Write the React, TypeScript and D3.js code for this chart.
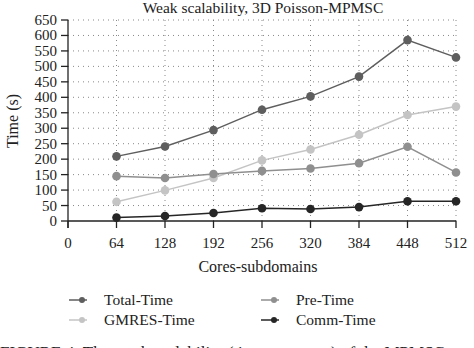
import React from "react";
import * as d3 from "d3";

const cores = [64, 128, 192, 256, 320, 384, 448, 512];
const totalTime = [209, 241, 294, 360, 403, 467, 585, 529];
const gmresTime = [62, 99, 139, 196, 231, 279, 343, 370];
const preTime = [145, 139, 152, 162, 170, 187, 240, 157];
const commTime = [11, 16, 26, 41, 39, 45, 64, 64];
const xTicks = [0, 64, 128, 192, 256, 320, 384, 448, 512];
const yTicks = d3.range(0, 651, 50);

const series = [
  { name: "Total-Time", values: totalTime, color: "#5e5e5e" },
  { name: "GMRES-Time", values: gmresTime, color: "#c4c4c4" },
  { name: "Pre-Time", values: preTime, color: "#8f8f8f" },
  { name: "Comm-Time", values: commTime, color: "#262626" },
];

const FONT = "'Liberation Serif', 'DejaVu Serif', serif";

export default function App() {
  const W = 474, H = 348;
  const x = d3.scaleLinear().domain([0, 512]).range([68, 456]);
  const y = d3.scaleLinear().domain([0, 650]).range([221, 20]);
  const line = d3.line<number>().x((_, i) => x(cores[i])).y((d) => y(d));

  const legend = [
    { s: series[0], lx: 69, ly: 300 },
    { s: series[2], lx: 261, ly: 300 },
    { s: series[1], lx: 69, ly: 320 },
    { s: series[3], lx: 261, ly: 320 },
  ];

  return (
    <svg width={W} height={H} style={{ position: "absolute", left: 0, top: 0, background: "#fff" }} fontFamily={FONT}>
      <rect width={W} height={H} fill="#fff" />
      <text x={263} y={13} textAnchor="middle" fontSize={15.5} fill="#222">
        Weak scalability, 3D Poisson-MPMSC
      </text>
      {/* grid */}
      {yTicks.slice(1).map((t) => (
        <line key={"gy" + t} x1={x(0)} x2={x(512)} y1={y(t)} y2={y(t)} stroke="#888" strokeWidth={1} strokeDasharray="1 4" />
      ))}
      {xTicks.slice(1).map((t) => (
        <line key={"gx" + t} x1={x(t)} x2={x(t)} y1={y(0)} y2={y(650)} stroke="#888" strokeWidth={1} strokeDasharray="1 4" />
      ))}
      {/* axes */}
      <line x1={x(0)} x2={x(0)} y1={y(650)} y2={y(0) + 7} stroke="#222" strokeWidth={1.3} />
      <line x1={x(0)} x2={x(512)} y1={y(0)} y2={y(0)} stroke="#222" strokeWidth={1.3} />
      {yTicks.map((t) => (
        <g key={"yt" + t}>
          <line x1={x(0) - 7} x2={x(0)} y1={y(t)} y2={y(t)} stroke="#222" strokeWidth={1.3} />
          <text x={x(0) - 11} y={y(t) + 5} textAnchor="end" fontSize={15} fill="#222">{t}</text>
        </g>
      ))}
      {xTicks.map((t) => (
        <g key={"xt" + t}>
          <line x1={x(t)} x2={x(t)} y1={y(0)} y2={y(0) + 7} stroke="#222" strokeWidth={1.3} />
          <text x={x(t)} y={y(0) + 27} textAnchor="middle" fontSize={15} fill="#222">{t}</text>
        </g>
      ))}
      <text x={258} y={272} textAnchor="middle" fontSize={16} fill="#222">Cores-subdomains</text>
      <text transform={`translate(18,121) rotate(-90)`} textAnchor="middle" fontSize={16} fill="#222">Time (s)</text>
      {/* series */}
      {series.map((s) => (
        <g key={s.name}>
          <path d={line(s.values) || ""} fill="none" stroke={s.color} strokeWidth={1.5} />
          {s.values.map((v, i) => (
            <circle key={i} cx={x(cores[i])} cy={y(v)} r={4.3} fill={s.color} />
          ))}
        </g>
      ))}
      {/* legend */}
      {legend.map(({ s, lx, ly }) => (
        <g key={"lg" + s.name}>
          <line x1={lx} x2={lx + 18} y1={ly} y2={ly} stroke={s.color} strokeWidth={1.5} />
          <circle cx={lx + 13} cy={ly} r={3} fill={s.color} />
          <text x={lx + 35} y={ly + 5} fontSize={15.5} fill="#222">{s.name}</text>
        </g>
      ))}
      <text x={0} y={358} fontSize={17} fill="#222">
        FIGURE 4: The weak scalability (time measures) of the MPMSC
      </text>
    </svg>
  );
}
